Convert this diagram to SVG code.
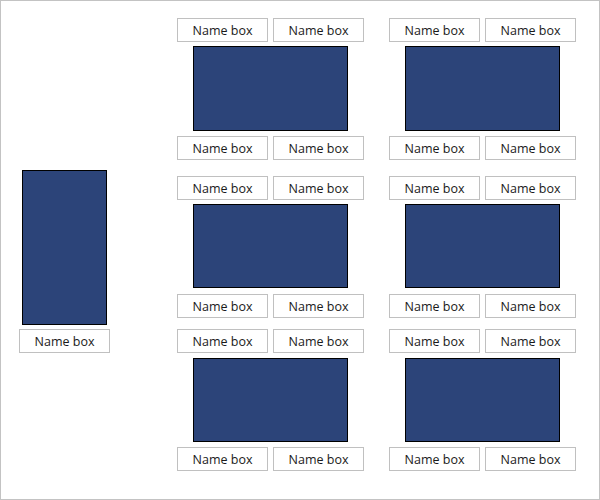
<svg xmlns="http://www.w3.org/2000/svg" width="600" height="500" viewBox="0 0 600 500">
<style>
.frame{fill:#ffffff;stroke:#c3c3c3;stroke-width:1}
.nb{fill:#ffffff;stroke:#c0c0c0;stroke-width:1}
.blk{fill:#2c4479;stroke:#000000;stroke-width:1}
.t{font-family:"Open Sans","Noto Sans","Liberation Sans",sans-serif;font-size:12.5px;fill:#1a1a1a;text-anchor:middle}
</style>
<rect class="frame" x="0.5" y="0.5" width="599" height="499"/>
<g id="connectors"/>
<g id="left-block">
<rect class="blk" x="22.5" y="170.5" width="84" height="154"/>
</g>
<g id="left-name"><rect class="nb" x="19.5" y="329.5" width="90" height="23"/><text class="t" x="64.5" y="346">Name box</text></g>

<g id="block-r1c1"><rect class="blk" x="193.5" y="46.5" width="154" height="84"/></g>
<g id="nb-r1c1-tl"><rect class="nb" x="177.5" y="18.5" width="90" height="23"/><text class="t" x="222.5" y="35">Name box</text></g>
<g id="nb-r1c1-tr"><rect class="nb" x="273.5" y="18.5" width="90" height="23"/><text class="t" x="318.5" y="35">Name box</text></g>
<g id="nb-r1c1-bl"><rect class="nb" x="177.5" y="136.5" width="90" height="23"/><text class="t" x="222.5" y="153">Name box</text></g>
<g id="nb-r1c1-br"><rect class="nb" x="273.5" y="136.5" width="90" height="23"/><text class="t" x="318.5" y="153">Name box</text></g>

<g id="block-r1c2"><rect class="blk" x="405.5" y="46.5" width="154" height="84"/></g>
<g id="nb-r1c2-tl"><rect class="nb" x="389.5" y="18.5" width="90" height="23"/><text class="t" x="434.5" y="35">Name box</text></g>
<g id="nb-r1c2-tr"><rect class="nb" x="485.5" y="18.5" width="90" height="23"/><text class="t" x="530.5" y="35">Name box</text></g>
<g id="nb-r1c2-bl"><rect class="nb" x="389.5" y="136.5" width="90" height="23"/><text class="t" x="434.5" y="153">Name box</text></g>
<g id="nb-r1c2-br"><rect class="nb" x="485.5" y="136.5" width="90" height="23"/><text class="t" x="530.5" y="153">Name box</text></g>

<g id="block-r2c1"><rect class="blk" x="193.5" y="204.5" width="154" height="83"/></g>
<g id="nb-r2c1-tl"><rect class="nb" x="177.5" y="176.5" width="90" height="23"/><text class="t" x="222.5" y="193">Name box</text></g>
<g id="nb-r2c1-tr"><rect class="nb" x="273.5" y="176.5" width="90" height="23"/><text class="t" x="318.5" y="193">Name box</text></g>
<g id="nb-r2c1-bl"><rect class="nb" x="177.5" y="294.5" width="90" height="23"/><text class="t" x="222.5" y="311">Name box</text></g>
<g id="nb-r2c1-br"><rect class="nb" x="273.5" y="294.5" width="90" height="23"/><text class="t" x="318.5" y="311">Name box</text></g>

<g id="block-r2c2"><rect class="blk" x="405.5" y="204.5" width="154" height="83"/></g>
<g id="nb-r2c2-tl"><rect class="nb" x="389.5" y="176.5" width="90" height="23"/><text class="t" x="434.5" y="193">Name box</text></g>
<g id="nb-r2c2-tr"><rect class="nb" x="485.5" y="176.5" width="90" height="23"/><text class="t" x="530.5" y="193">Name box</text></g>
<g id="nb-r2c2-bl"><rect class="nb" x="389.5" y="294.5" width="90" height="23"/><text class="t" x="434.5" y="311">Name box</text></g>
<g id="nb-r2c2-br"><rect class="nb" x="485.5" y="294.5" width="90" height="23"/><text class="t" x="530.5" y="311">Name box</text></g>

<g id="block-r3c1"><rect class="blk" x="193.5" y="358.5" width="154" height="83"/></g>
<g id="nb-r3c1-tl"><rect class="nb" x="177.5" y="329.5" width="90" height="23"/><text class="t" x="222.5" y="346">Name box</text></g>
<g id="nb-r3c1-tr"><rect class="nb" x="273.5" y="329.5" width="90" height="23"/><text class="t" x="318.5" y="346">Name box</text></g>
<g id="nb-r3c1-bl"><rect class="nb" x="177.5" y="447.5" width="90" height="23"/><text class="t" x="222.5" y="464">Name box</text></g>
<g id="nb-r3c1-br"><rect class="nb" x="273.5" y="447.5" width="90" height="23"/><text class="t" x="318.5" y="464">Name box</text></g>

<g id="block-r3c2"><rect class="blk" x="405.5" y="358.5" width="154" height="83"/></g>
<g id="nb-r3c2-tl"><rect class="nb" x="389.5" y="329.5" width="90" height="23"/><text class="t" x="434.5" y="346">Name box</text></g>
<g id="nb-r3c2-tr"><rect class="nb" x="485.5" y="329.5" width="90" height="23"/><text class="t" x="530.5" y="346">Name box</text></g>
<g id="nb-r3c2-bl"><rect class="nb" x="389.5" y="447.5" width="90" height="23"/><text class="t" x="434.5" y="464">Name box</text></g>
<g id="nb-r3c2-br"><rect class="nb" x="485.5" y="447.5" width="90" height="23"/><text class="t" x="530.5" y="464">Name box</text></g>
</svg>
